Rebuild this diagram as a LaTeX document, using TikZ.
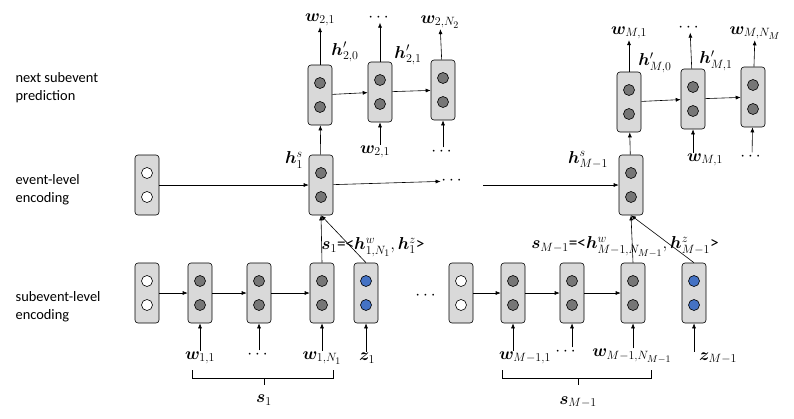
\documentclass[tikz,border=0pt]{standalone}
\usepackage{fontspec}
\setmainfont{Carlito}
\usepackage{amsmath,bm}
\usetikzlibrary{arrows.meta, calc}
\definecolor{cellgray}{RGB}{217, 217, 217}
\definecolor{dotgray}{RGB}{118, 118, 118}
\definecolor{dotblue}{RGB}{68, 114, 196}
\tikzset{
  cell/.style={draw, rounded corners=3pt, fill=cellgray, minimum width=24pt, minimum height=60pt, inner sep=0pt},
  unit/.style={draw, circle, minimum size=11pt, inner sep=0pt},
  lbl/.style={inner sep=0.5pt, font=\LARGE},
  arr/.style={-{Latex[length=5pt, width=4pt]}},
}
% cell with two units: name, x, y, unit colour
\newcommand{\rnncell}[4]{
  \node[cell] (#1) at (#2, #3) {};
  \node[unit, fill=#4] at ($(#1.center)+(0,-12)$) {};
  \node[unit, fill=#4] at ($(#1.center)+(0,12)$) {};
}
\begin{document}
\begin{tikzpicture}[x=1pt, y=-1pt, line width=0.6pt]
  \useasboundingbox (0,0) rectangle (794,418);
  % row captions
  \node[align=left, anchor=west, font=\Large] at (12,88) {next subevent\\prediction};
  \node[align=left, anchor=west, font=\Large] at (12,190) {event-level\\encoding};
  \node[align=left, anchor=west, font=\Large] at (12,307) {subevent-level\\encoding};

  % subevent-level cells
  \rnncell{a0}{147}{293}{white}
  \rnncell{a1}{200}{293}{dotgray}
  \rnncell{a2}{259}{293}{dotgray}
  \rnncell{a3}{322}{293}{dotgray}
  \rnncell{az}{366}{293}{dotblue}
  \rnncell{b0}{461}{293}{white}
  \rnncell{b1}{513}{293}{dotgray}
  \rnncell{b2}{572}{293}{dotgray}
  \rnncell{b3}{633}{293}{dotgray}
  \rnncell{bz}{694}{293}{dotblue}
  % event-level cells
  \rnncell{e0}{147}{185}{white}
  \rnncell{e1}{321}{185}{dotgray}
  \rnncell{e2}{631}{185}{dotgray}
  % decoder cells
  \rnncell{d1}{320}{95}{dotgray}
  \rnncell{d2}{380}{92}{dotgray}
  \rnncell{d3}{443}{90}{dotgray}
  \rnncell{m1}{629}{102}{dotgray}
  \rnncell{m2}{693}{99}{dotgray}
  \rnncell{m3}{753}{97}{dotgray}

  % chains
  \draw[arr] (a0) -- (a1);
  \draw[arr] (a1) -- (a2);
  \draw[arr] (a2) -- (a3);
  \draw[arr] (b0) -- (b1);
  \draw[arr] (b1) -- (b2);
  \draw[arr] (b2) -- (b3);
  \draw[arr] (d1) -- (d2);
  \draw[arr] (d2) -- (d3);
  \draw[arr] (m1) -- (m2);
  \draw[arr] (m2) -- (m3);
  \draw[arr] (e0) -- (e1);
  \node[lbl] (edots) at (453,181) {$\cdots$};
  \draw[arr] (e1) -- (edots);
  \coordinate (estart) at (483,185);
  \draw[arr] (estart) -- (e2);
  \node[lbl] (adots) at (427,296) {$\cdots$};
  \draw[arr] (e1) -- (d1);
  \draw[arr] (e2) -- (m1);
  \draw[arr] (a3.north) -- (e1.south);
  \draw[arr] (az.north) -- (e1.south);
  \draw[arr] (b3.north) -- (e2.south);
  \draw[arr] (bz.north) -- (e2.south);

  % decoder labels
  \node[lbl] (o1) at (320,20) {$\bm{w}_{2,1}$};
  \node[lbl] (o2) at (380,18) {$\cdots$};
  \node[lbl] (o3) at (440,22) {$\bm{w}_{2,N_2}$};
  \draw[arr] (d1) -- (o1);
  \draw[arr] (d2) -- (o2);
  \draw[arr] (d3) -- (o3);
  \node[lbl] at (345,52) {$\bm{h}'_{2,0}$};
  \node[lbl] at (408,55) {$\bm{h}'_{2,1}$};
  \node[lbl] (i2) at (375,152) {$\bm{w}_{2,1}$};
  \node[lbl] (i3) at (443,152) {$\cdots$};
  \draw[arr] (i2.north-|d2.south) -- (d2);
  \draw[arr] (i3) -- (d3);
  \node[lbl] (p1) at (629,33) {$\bm{w}_{M,1}$};
  \node[lbl] (p2) at (690,28) {$\cdots$};
  \node[lbl] (p3) at (755,33) {$\bm{w}_{M,N_M}$};
  \draw[arr] (m1) -- (p1);
  \draw[arr] (m2) -- (p2);
  \draw[arr] (m3) -- (p3);
  \node[lbl] at (655,63) {$\bm{h}'_{M,0}$};
  \node[lbl] at (716,61) {$\bm{h}'_{M,1}$};
  \node[lbl] (q2) at (705,160) {$\bm{w}_{M,1}$};
  \node[lbl] (q3) at (752,157) {$\cdots$};
  \draw[arr] (q2.north-|m2.south) -- (m2);
  \draw[arr] (q3) -- (m3);

  % event-level labels
  \node[lbl] at (294,160) {$\bm{h}^s_1$};
  \node[lbl] at (588,160) {$\bm{h}^s_{M-1}$};
  \node[lbl] at (373,247) {$\bm{s}_1\text{=<}\bm{h}^w_{1,N_1},\bm{h}^z_1\text{>}$};
  \node[lbl] at (625,247) {$\bm{s}_{M-1}\text{=<}\bm{h}^w_{M-1,N_{M-1}},\bm{h}^z_{M-1}\text{>}$};

  % subevent-level inputs
  \node[lbl] (x1) at (200,358) {$\bm{w}_{1,1}$};
  \node[lbl] (x2) at (259,355) {$\cdots$};
  \node[lbl] (x3) at (322,358) {$\bm{w}_{1,N_1}$};
  \node[lbl] (x4) at (367,358) {$\bm{z}_1$};
  \node[lbl] (y1) at (525,358) {$\bm{w}_{M-1,1}$};
  \node[lbl] (y2) at (567,352) {$\cdots$};
  \node[lbl] (y3) at (632,356) {$\bm{w}_{M-1,N_{M-1}}$};
  \node[lbl] (y4) at (718,358) {$\bm{z}_{M-1}$};
  \draw[arr] (x1.north-|a1.south) -- (a1);
  \draw[arr] (x2.north-|a2.south) -- (a2);
  \draw[arr] (x3.north-|a3.south) -- (a3);
  \draw[arr] (x4.north-|az.south) -- (az);
  \draw[arr] (y1.north-|b1.south) -- (b1);
  \draw[arr] (y2.north-|b2.south) -- (b2);
  \draw[arr] (y3.north-|b3.south) -- (b3);
  \draw[arr] (y4.north-|bz.south) -- (bz);

  % brackets
  \draw (192,370) -- (192,378) -- (333,378) -- (333,370);
  \draw (264,378) -- (264,385);
  \node[lbl] at (264,400) {$\bm{s}_1$};
  \draw (502,370) -- (502,378) -- (651,378) -- (651,370);
  \draw (578,378) -- (578,385);
  \node[lbl] at (578,402) {$\bm{s}_{M-1}$};
\end{tikzpicture}
\end{document}
